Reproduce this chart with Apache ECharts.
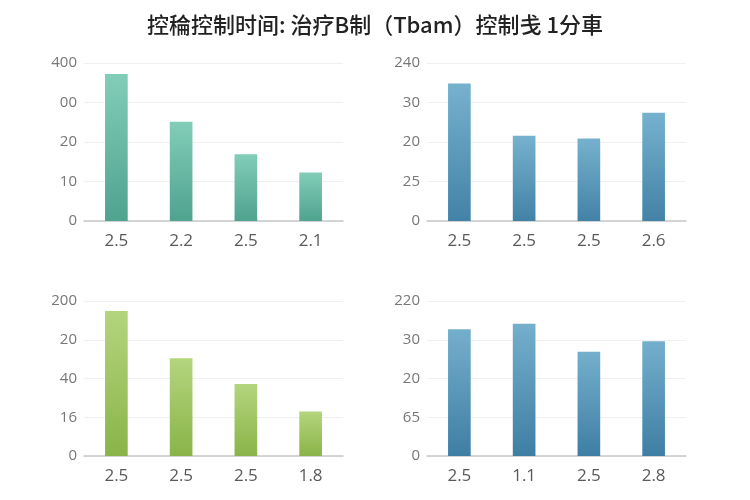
<!DOCTYPE html>
<html>
<head>
<meta charset="utf-8">
<script src="https://cdn.jsdelivr.net/npm/echarts@6/dist/echarts.min.js"></script>
<style>html,body{margin:0;padding:0;background:#fff}#c{width:750px;height:500px}</style>
</head>
<body>
<div id="c"></div>
<script>
const title = '控稐控制时间: 治疗B制（Tbam）控制戋 1分車';
const cats1 = ['2.5', '2.2', '2.5', '2.1'];
const cats2 = ['2.5', '2.5', '2.5', '2.6'];
const cats3 = ['2.5', '2.5', '2.5', '1.8'];
const cats4 = ['2.5', '1.1', '2.5', '2.8'];
const ticks1 = ['0', '10', '20', '00', '400'];
const ticks2 = ['0', '25', '20', '30', '240'];
const ticks3 = ['0', '16', '40', '20', '200'];
const ticks4 = ['0', '65', '20', '30', '220'];
const vals1 = [3.72, 2.51, 1.69, 1.23];
const vals2 = [3.48, 2.16, 2.09, 2.74];
const vals3 = [3.74, 2.52, 1.86, 1.15];
const vals4 = [3.27, 3.41, 2.69, 2.96];

const panels = [
  {cats: cats1, ticks: ticks1, vals: vals1, grid: {left: 84, top: 63, width: 259, height: 158}, colors: ['#82cdb8', '#4fa38f']},
  {cats: cats2, ticks: ticks2, vals: vals2, grid: {left: 427, top: 63, width: 259, height: 158}, colors: ['#76b2ce', '#4382a7']},
  {cats: cats3, ticks: ticks3, vals: vals3, grid: {left: 84, top: 301, width: 259, height: 155}, colors: ['#b3d57d', '#8ab449']},
  {cats: cats4, ticks: ticks4, vals: vals4, grid: {left: 427, top: 301, width: 259, height: 155}, colors: ['#74afcc', '#3f7ea4']}
];

const chart = echarts.init(document.getElementById('c'));
const option = {
  backgroundColor: '#fff',
  animation: false,
  title: {
    text: title, left: 'center', top: 9,
    textStyle: {fontSize: 22, fontWeight: 500, color: '#222', fontFamily: 'Noto Sans CJK SC'}
  },
  grid: panels.map(p => p.grid),
  xAxis: panels.map((p, i) => ({
    type: 'category', gridIndex: i, data: p.cats,
    axisTick: {show: false},
    axisLine: {lineStyle: {color: '#c8c8c8', width: 1.5}},
    axisLabel: {fontSize: 17, color: '#5a5a5a', margin: 12, fontFamily: 'Open Sans'}
  })),
  yAxis: panels.map((p, i) => ({
    type: 'value', gridIndex: i, min: 0, max: 4, interval: 1,
    axisLine: {show: false}, axisTick: {show: false},
    splitLine: {lineStyle: {color: '#f0f0f0'}},
    axisLabel: {fontSize: 15, color: '#777', margin: 7, fontFamily: 'Open Sans',
      formatter: v => p.ticks[Math.round(v)]}
  })),
  series: panels.map((p, i) => ({
    type: 'bar', xAxisIndex: i, yAxisIndex: i, data: p.vals, barWidth: '35%',
    itemStyle: {
      color: new echarts.graphic.LinearGradient(0, 0, 0, 1, [
        {offset: 0, color: p.colors[0]}, {offset: 1, color: p.colors[1]}
      ])
    }
  }))
};
chart.setOption(option);
</script>
</body>
</html>
